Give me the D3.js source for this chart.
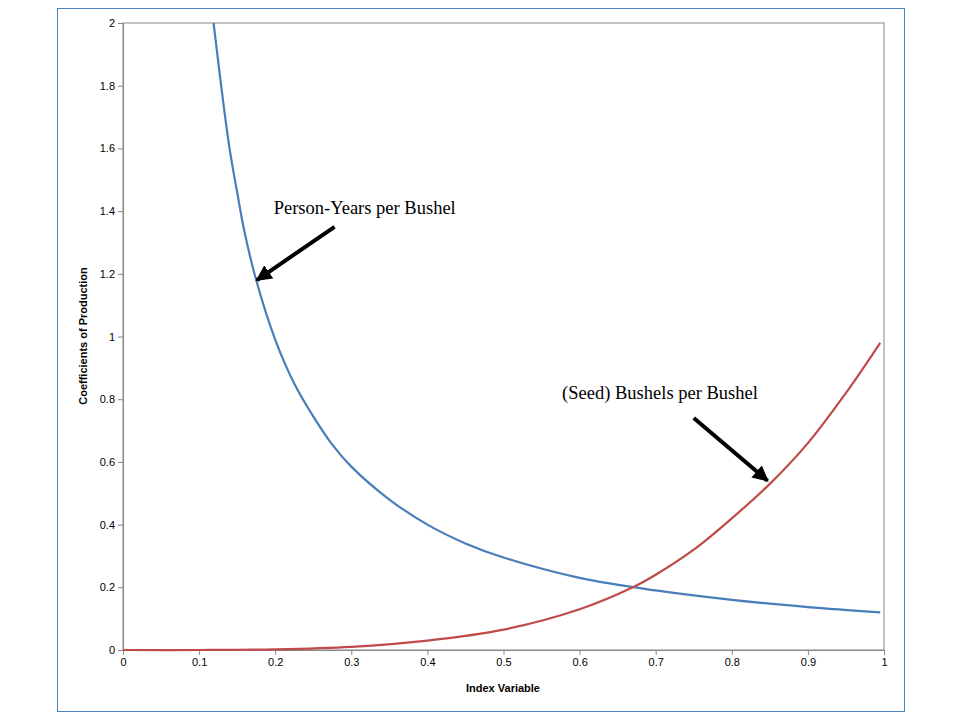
<!DOCTYPE html>
<html><head><meta charset="utf-8">
<script src="https://cdn.jsdelivr.net/npm/d3@7"></script>
<style>body{margin:0;background:#fff}</style></head>
<body><svg id="chart" width="960" height="720"></svg>
<script>
const xTicks = [0, 0.1, 0.2, 0.3, 0.4, 0.5, 0.6, 0.7, 0.8, 0.9, 1];
const yTicks = [0, 0.2, 0.4, 0.6, 0.8, 1, 1.2, 1.4, 1.6, 1.8, 2];
const personYears = [[0.119,2.0],[0.13,1.78],[0.14,1.6],[0.15,1.46],[0.16,1.33],[0.175,1.18],[0.2,0.99],[0.225,0.85],[0.25,0.745],[0.275,0.655],[0.3,0.585],[0.35,0.48],[0.4,0.40],[0.45,0.34],[0.5,0.295],[0.6,0.23],[0.7,0.19],[0.8,0.16],[0.9,0.137],[0.995,0.12]];
const seedBushels = [[0,0],[0.1,0],[0.2,0.002],[0.3,0.01],[0.4,0.03],[0.5,0.065],[0.6,0.13],[0.67,0.2],[0.7,0.24],[0.75,0.32],[0.8,0.42],[0.85,0.53],[0.9,0.66],[0.95,0.82],[0.995,0.98]];
const notes = [
  {text: "Person-Years per Bushel", tx: 0.198, ty: 1.39, from: [0.278, 1.35], to: [0.176, 1.18]},
  {text: "(Seed) Bushels per Bushel", tx: 0.577, ty: 0.8, from: [0.75, 0.74], to: [0.847, 0.54]}
];

const svg = d3.select("#chart");
svg.append("rect").attr("x", 57.5).attr("y", 8.5).attr("width", 847).attr("height", 703)
  .attr("fill", "none").attr("stroke", "#4f81bd").attr("stroke-width", 1);

const x = d3.scaleLinear().domain([0, 1]).range([123, 884]);
const y = d3.scaleLinear().domain([0, 2]).range([650, 23]);

svg.append("rect").attr("x", 123).attr("y", 23).attr("width", 761).attr("height", 627)
  .attr("fill", "none").attr("stroke", "#888");

const xa = svg.append("g").attr("transform", "translate(0,650)")
  .call(d3.axisBottom(x).tickValues(xTicks).tickFormat(d3.format("")).tickSize(5));
const ya = svg.append("g").attr("transform", "translate(123,0)")
  .call(d3.axisLeft(y).tickValues(yTicks).tickFormat(d3.format("")).tickSize(5));
[xa, ya].forEach(a => {
  a.select(".domain").attr("stroke", "#888");
  a.selectAll(".tick line").attr("stroke", "#888");
  a.selectAll("text").attr("font-family", "Liberation Sans, Arial").attr("font-size", 11).attr("fill", "#000");
});

svg.append("text").attr("x", 503).attr("y", 692).attr("text-anchor", "middle")
  .attr("font-family", "Liberation Sans, Arial").attr("font-size", 11).attr("font-weight", "bold").text("Index Variable");
svg.append("text").attr("transform", "translate(87,336) rotate(-90)").attr("text-anchor", "middle")
  .attr("font-family", "Liberation Sans, Arial").attr("font-size", 11).attr("font-weight", "bold").text("Coefficients of Production");

const line = d3.line().x(d => x(d[0])).y(d => y(d[1])).curve(d3.curveCatmullRom);
svg.append("path").attr("d", line(personYears)).attr("fill", "none").attr("stroke", "#4a7ebb").attr("stroke-width", 2.2);
svg.append("path").attr("d", line(seedBushels)).attr("fill", "none").attr("stroke", "#be4b48").attr("stroke-width", 2.2);

svg.append("defs").append("marker").attr("id", "ah").attr("viewBox", "0 0 10 10")
  .attr("refX", 9).attr("refY", 5).attr("markerWidth", 4).attr("markerHeight", 4).attr("orient", "auto")
  .append("path").attr("d", "M0,0L10,5L0,10z").attr("fill", "#000");

notes.forEach(n => {
  svg.append("text").attr("x", x(n.tx)).attr("y", y(n.ty))
    .attr("font-family", "Liberation Serif, Times New Roman").attr("font-size", 18.5).text(n.text);
  svg.append("line").attr("x1", x(n.from[0])).attr("y1", y(n.from[1]))
    .attr("x2", x(n.to[0])).attr("y2", y(n.to[1]))
    .attr("stroke", "#000").attr("stroke-width", 4).attr("marker-end", "url(#ah)");
});
</script></body></html>
